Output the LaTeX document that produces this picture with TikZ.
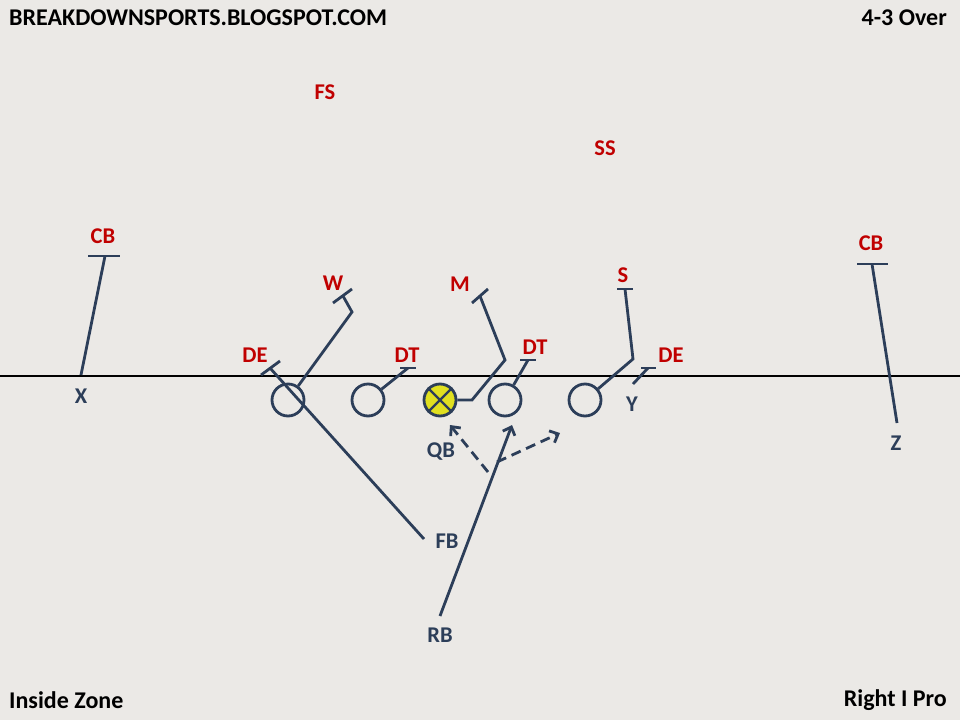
\documentclass[tikz,border=0pt]{standalone}
\usepackage{fontspec}
\setmainfont{Carlito}
\usetikzlibrary{arrows.meta}
\definecolor{bg}{HTML}{EBE9E6}
\definecolor{pblue}{HTML}{2C3E59}
\definecolor{pred}{HTML}{C00000}
\definecolor{pyel}{HTML}{E0E020}
\tikzset{
  lbl/.style={font=\fontsize{22.5}{26}\selectfont\bfseries, inner sep=0pt},
  def/.style={lbl, text=pred},
  off/.style={lbl, text=pblue},
  corner/.style={font=\fontsize{24}{28}\selectfont\bfseries, text=black, inner sep=0pt},
  ol/.style={circle, draw=pblue, line width=2.8pt, minimum size=32pt, inner sep=0pt},
  blk/.style={draw=pblue, line width=2.8pt},
  tbar/.style={draw=pblue, line width=2.8pt},
  runarrow/.style={draw=pblue, line width=2.8pt, -{Straight Barb[length=7pt,width=13pt]}},
  readarrow/.style={runarrow, dash pattern=on 10pt off 6pt},
}
\begin{document}
\begin{tikzpicture}[x=1pt,y=-1pt]
\fill[bg] (0,0) rectangle (960,720);
\useasboundingbox (0,0) rectangle (960,720);

% corner texts
\node[corner, anchor=west] (site) at (9,18) {BREAKDOWNSPORTS.BLOGSPOT.COM};
\node[corner, anchor=east] (front) at (947,18) {4-3 Over};
\node[corner, anchor=west] (play) at (9,700) {Inside Zone};
\node[corner, anchor=east] (form) at (947,700) {Right I Pro};

% line of scrimmage
\coordinate (losl) at (0,376);
\coordinate (losr) at (960,376);
\draw[black, line width=2.8pt] (losl) -- (losr);

% defense labels
\node[def] (fs) at (325,92) {FS};
\node[def] (ss) at (605,148) {SS};
\node[def] (cbl) at (103,236) {CB};
\node[def] (cbr) at (871,243) {CB};
\node[def] (w) at (333,283) {W};
\node[def] (m) at (460,284) {M};
\node[def] (s) at (623,275) {S};
\node[def] (del) at (255,355) {DE};
\node[def] (dtl) at (407,355) {DT};
\node[def] (dtr) at (535,347) {DT};
\node[def] (der) at (671,355) {DE};

% offense
\node[ol] (lt) at (288,400) {};
\node[ol] (lg) at (368,400) {};
\node[ol, fill=pyel] (c) at (440,400) {};
\draw[pblue, line width=2.4pt] (c.north west) -- (c.south east) (c.north east) -- (c.south west);
\node[ol] (rg) at (505,400) {};
\node[ol] (rt) at (585,400) {};

\node[off] (x) at (81,396) {X};
\node[off] (y) at (632,404) {Y};
\node[off] (z) at (896,443) {Z};
\node[off] (qb) at (441,452) {QB};
\node[off] (fb) at (447,541) {FB};
\node[off] (rb) at (440,635) {RB};

% coordinates
\coordinate (xs) at (81,375);
\coordinate (xe) at (105,256);
\coordinate (xb1) at (88,256);
\coordinate (xb2) at (120,256);
\coordinate (zs) at (897,423);
\coordinate (ze) at (872,264);
\coordinate (zb1) at (857,264);
\coordinate (zb2) at (888,264);
\coordinate (ltk) at (352,312);
\coordinate (lte) at (343,296);
\coordinate (ltb1) at (333,303);
\coordinate (ltb2) at (352,289);
\coordinate (lge) at (408,368);
\coordinate (lgb1) at (400,368);
\coordinate (lgb2) at (416,368);
\coordinate (ck1) at (472,400);
\coordinate (ck2) at (505,360);
\coordinate (ce) at (480,296);
\coordinate (cb1) at (472,303);
\coordinate (cb2) at (488,289);
\coordinate (rge) at (528,360);
\coordinate (rgb1) at (520,360);
\coordinate (rgb2) at (536,360);
\coordinate (rtk) at (633,359);
\coordinate (rte) at (625,289);
\coordinate (rtb1) at (617,289);
\coordinate (rtb2) at (633,289);
\coordinate (ys) at (633,384);
\coordinate (ye) at (648,368);
\coordinate (yb1) at (641,368);
\coordinate (yb2) at (656,368);
\coordinate (fbs) at (424,539);
\coordinate (fbe) at (270,368);
\coordinate (fbb1) at (261,375);
\coordinate (fbb2) at (280,361);
\coordinate (rbs) at (440,616);
\coordinate (rbe) at (512,425);
\coordinate (rd1s) at (488,472);
\coordinate (rd1e) at (450,425);
\coordinate (rd2s) at (497,462);
\coordinate (rd2e) at (560,433);

% blocks
\draw[blk] (xs) -- (xe); \draw[tbar] (xb1) -- (xb2);
\draw[blk] (zs) -- (ze); \draw[tbar] (zb1) -- (zb2);
\draw[blk] (lt) -- (ltk) -- (lte); \draw[tbar] (ltb1) -- (ltb2);
\draw[blk] (lg) -- (lge); \draw[tbar] (lgb1) -- (lgb2);
\draw[blk] (c.east) -- (ck1) -- (ck2) -- (ce); \draw[tbar] (cb1) -- (cb2);
\draw[blk] (rg) -- (rge); \draw[tbar] (rgb1) -- (rgb2);
\draw[blk] (rt) -- (rtk) -- (rte); \draw[tbar] (rtb1) -- (rtb2);
\draw[blk] (ys) -- (ye); \draw[tbar] (yb1) -- (yb2);
\draw[blk] (fbs) -- (fbe); \draw[tbar] (fbb1) -- (fbb2);

% runs
\draw[runarrow] (rbs) -- (rbe);
\draw[readarrow] (rd1s) -- (rd1e);
\draw[readarrow] (rd2s) -- (rd2e);
\end{tikzpicture}
\end{document}
